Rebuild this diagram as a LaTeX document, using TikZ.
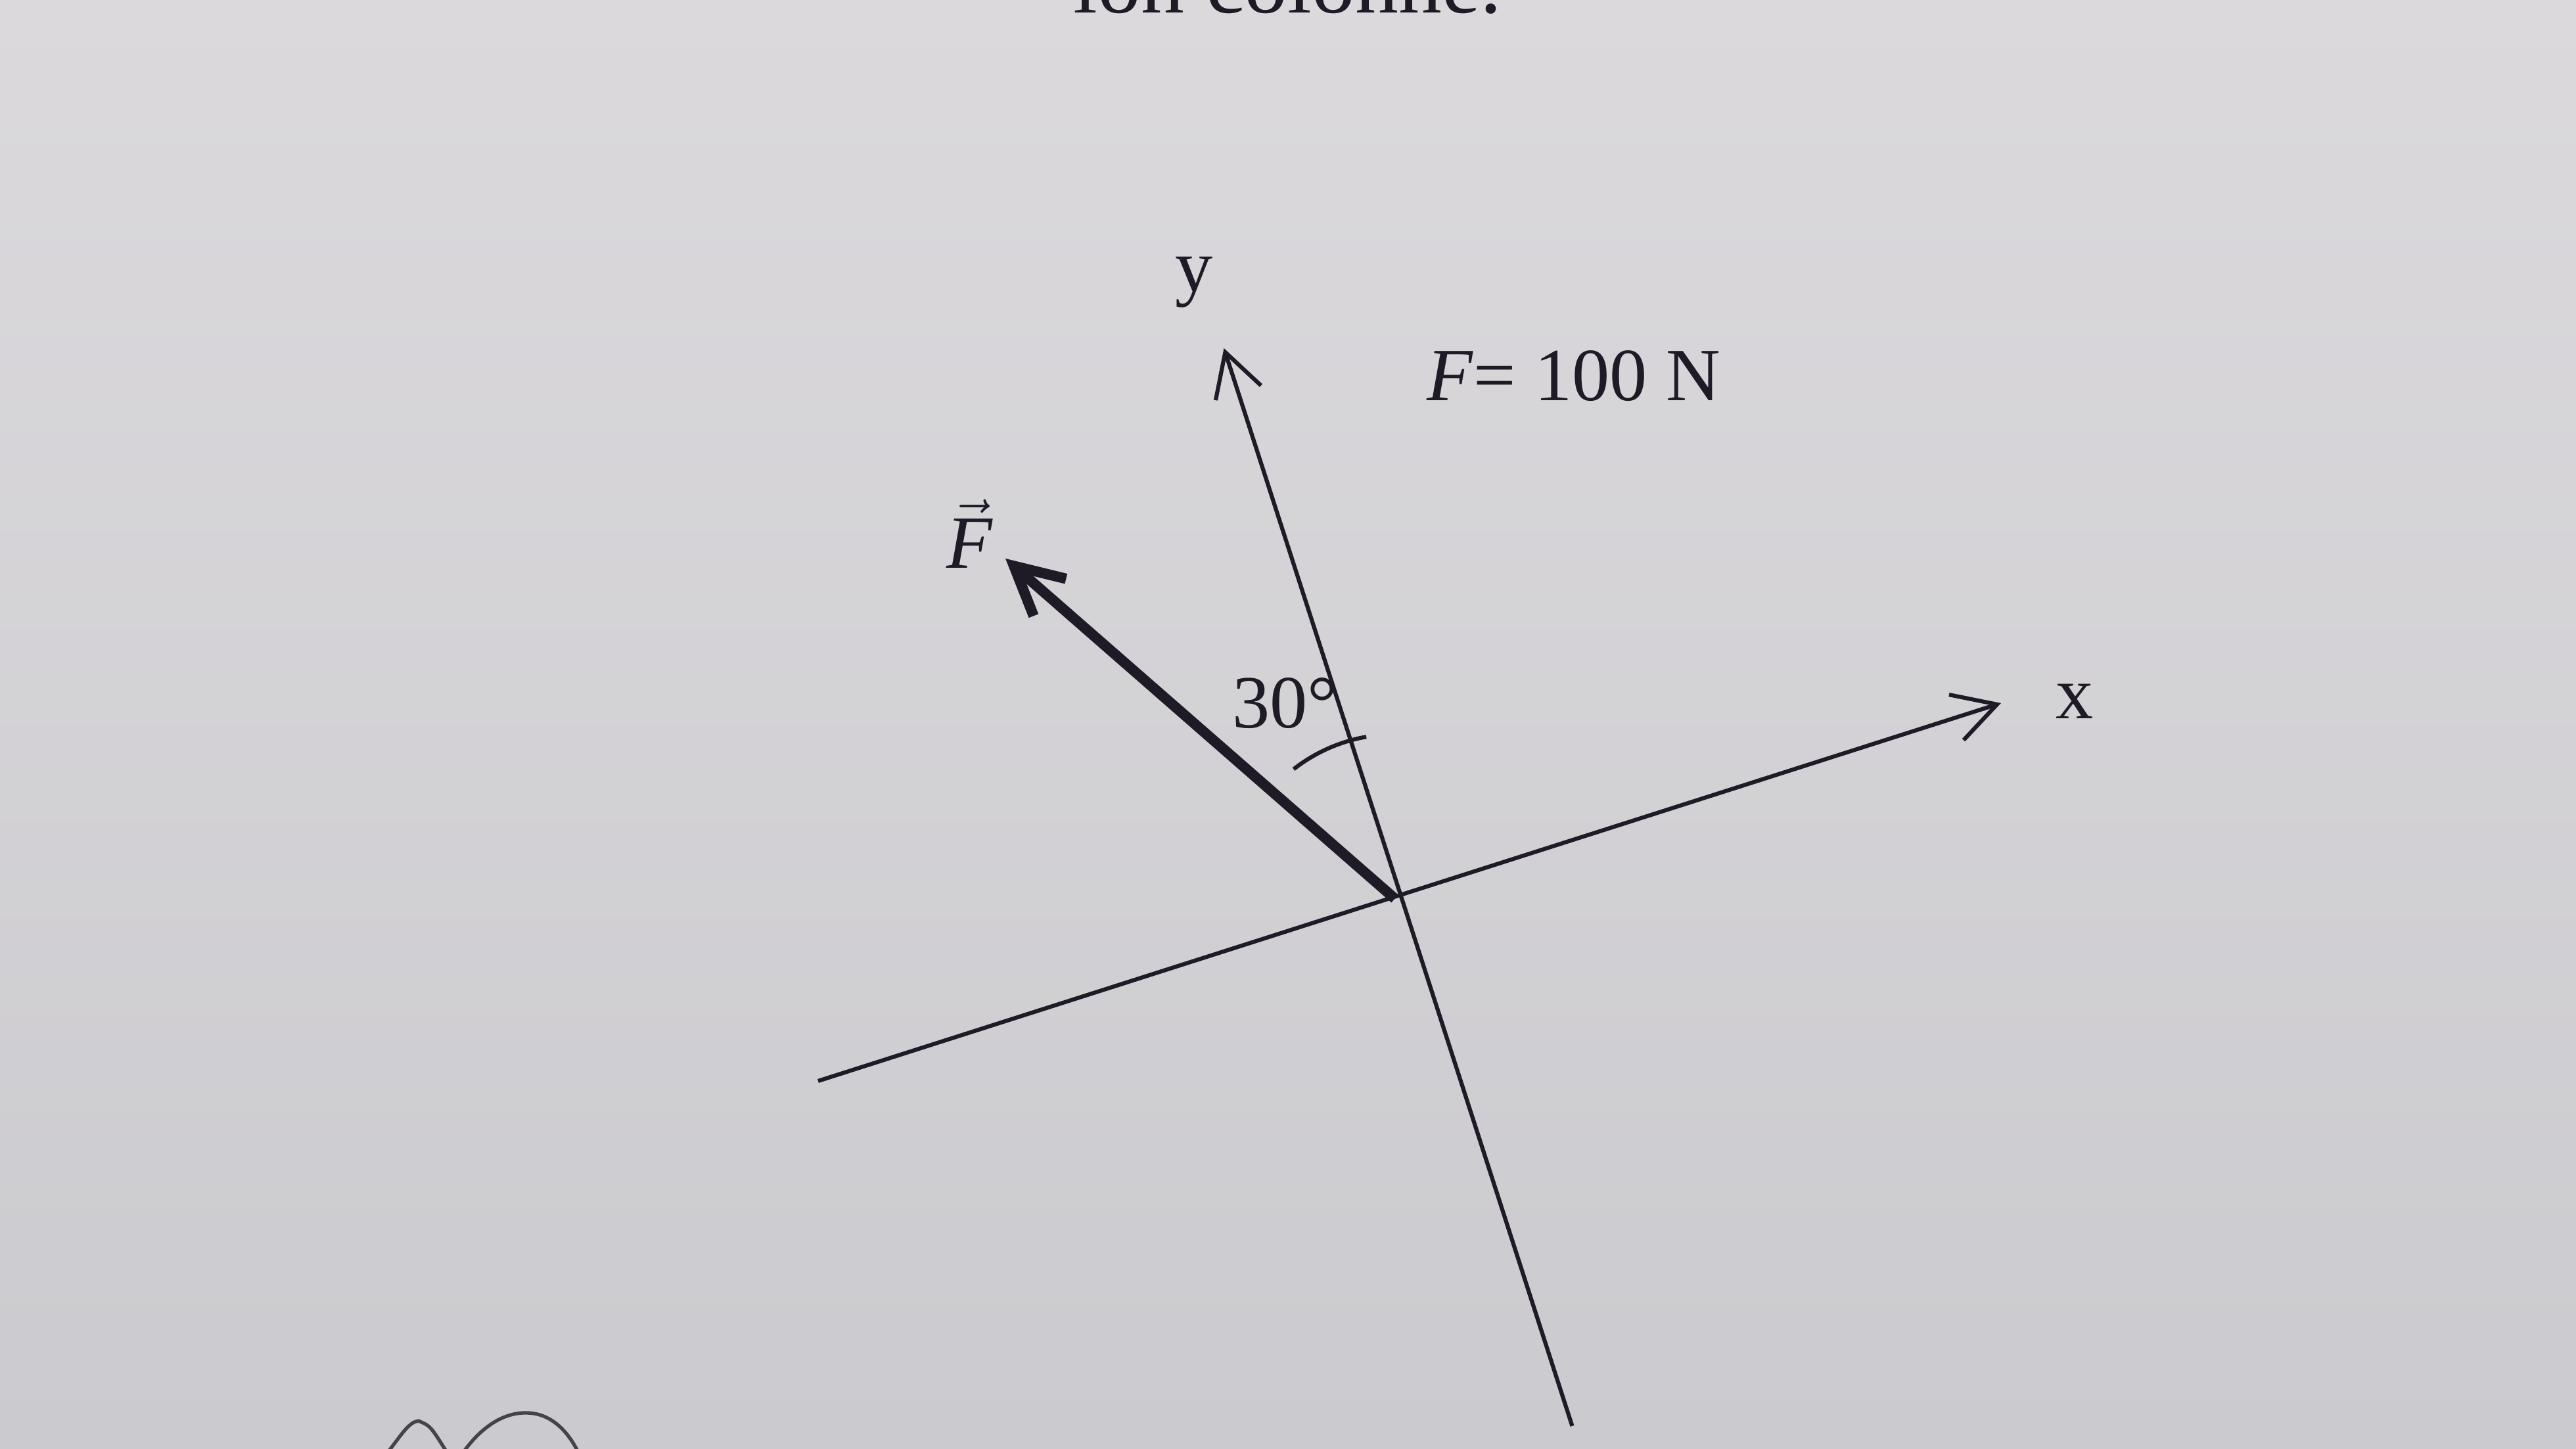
\documentclass[tikz,border=0pt]{standalone}
\usepackage{fontspec}
\setmainfont{Liberation Serif}
\usetikzlibrary{arrows.meta}
\definecolor{paperlight}{RGB}{219,217,220}
\definecolor{paperdark}{RGB}{203,202,206}
\definecolor{ink}{RGB}{30,26,38}
\definecolor{pencil}{RGB}{70,66,74}
\tikzset{
  axisline/.style={draw=ink, line width=0.7pt, -{Straight Barb[length=0.26cm,width=0.29cm,line width=0.7pt]}},
  forceline/.style={draw=ink, line width=1.8pt, -{Straight Barb[length=0.29cm,width=0.30cm,line width=1.8pt]}},
  anglearc/.style={draw=ink, line width=0.7pt},
  lbl/.style={text=ink, inner sep=0pt, font=\fontsize{13}{15}\selectfont},
  scribble/.style={draw=pencil, line width=0.6pt, line cap=round, line join=round}
}
\begin{document}
\begin{tikzpicture}[x=0.01cm,y=0.01cm]
  \shade[top color=paperlight,bottom color=paperdark] (0,0) rectangle (1568,882);
  \useasboundingbox (0,0) rectangle (1568,882);

  % cut-off line of text at the top
  \node[anchor=base east, text=ink, inner sep=0pt, font=\fontsize{15}{18}\selectfont] (toptext) at (915,874) {ion colonne.};

  % axes
  \coordinate (O) at (849,335);
  \coordinate (xstart) at (498,224);
  \coordinate (xtip) at (1218,454);
  \coordinate (ystart) at (957,14);
  \coordinate (ytip) at (745,670);
  \coordinate (Ftip) at (612,542);

  \draw[axisline] (xstart) -- (xtip);
  \draw[axisline] (ystart) -- (ytip);
  \draw[forceline] (O) -- (Ftip);

  % angle arc
  \draw[anglearc] ([shift={(128:100)}]O) arc[start angle=128, end angle=100, radius=1cm];

  % labels
  \node[lbl] (ylab) at (727,710) {y};
  \node[lbl] (xlab) at (1263,455) {x};
  \node[lbl] (Flab) at (590,557) {$\vec{\textit{F}}$};
  \node[lbl] (Fval) at (958,653) {\textit{F}= 100 N};
  \node[lbl] (ang) at (782,454) {30°};

  % pencil scribble at the bottom left
  \draw[scribble] (236,-2) .. controls (244,8) and (249,17) .. (255,17) .. controls (262,14) .. (272,-2);
  \draw[scribble] (282,-2) .. controls (292,12) and (305,22) .. (320,22) .. controls (336,22) and (346,10) .. (352,-2);
\end{tikzpicture}
\end{document}
